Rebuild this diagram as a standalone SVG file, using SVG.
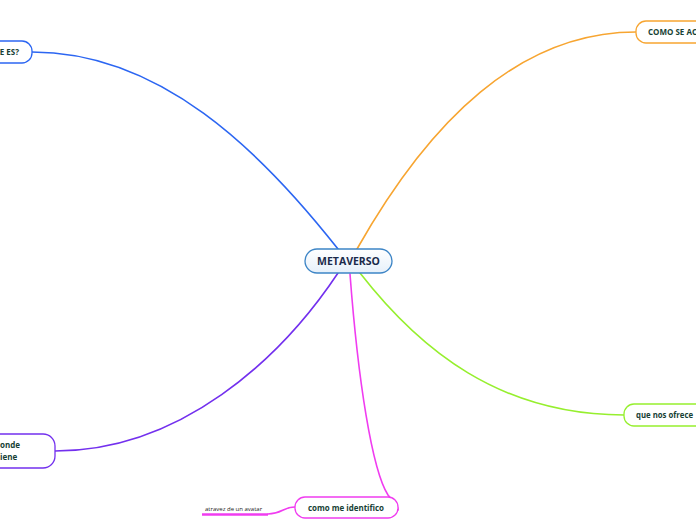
<svg xmlns="http://www.w3.org/2000/svg" width="696" height="520" viewBox="0 0 696 520">
<defs>
<linearGradient id="cg" x1="0" y1="0" x2="0" y2="1">
<stop offset="0" stop-color="#ffffff"/>
<stop offset="1" stop-color="#e6f0fa"/>
</linearGradient>
<style>
.n{fill:#ffffff;stroke-width:1.3}
.t{font-family:"Open Sans","Noto Sans","Liberation Sans",sans-serif;font-weight:bold;font-size:8px;fill:#173f35}
.c{fill:none;stroke-width:1.6;stroke-linecap:round}
</style>
</defs>
<rect width="696" height="520" fill="#ffffff"/>
<g id="connectors">
<path class="c" stroke="#2c66f2" d="M32,52 C160,52 260,150 338,249"/>
<path class="c" stroke="#f7a531" d="M357,249 C430,120 520,32 636,32"/>
<path class="c" stroke="#96ef2e" d="M360,273 C420,350 500,415 624,415"/>
<path class="c" stroke="#7330ee" d="M338,273 C280,360 180,451 55,451"/>
<path class="c" stroke="#f03cf0" d="M350,274 C358,380 372,470 388,495 C394,503 399,506 398,510"/>
<path class="c" stroke="#f03cf0" stroke-width="1" d="M268,514 C282,514 283,507 295,507"/>
</g>
<g id="node-center">
<rect x="305" y="249" width="87" height="24" rx="12" fill="url(#cg)" stroke="#3d85c6" stroke-width="1.3"/>
<text x="348.5" y="265" text-anchor="middle" font-family="'Open Sans','Noto Sans','Liberation Sans',sans-serif" font-weight="bold" font-size="10.5" fill="#1b2a4a">METAVERSO</text>
</g>
<g id="node-que-es">
<rect class="n" x="-20" y="41" width="52" height="22" rx="10" stroke="#2c66f2"/>
<text class="t" x="19" y="55" text-anchor="end">E ES?</text>
</g>
<g id="node-como-se-ac">
<rect class="n" x="636" y="21" width="80" height="22" rx="10" stroke="#f7a531"/>
<text class="t" x="648" y="35">COMO SE AC</text>
</g>
<g id="node-que-nos-ofrece">
<rect class="n" x="624" y="404" width="90" height="22" rx="10" stroke="#96ef2e"/>
<text class="t" x="636" y="418" textLength="57" lengthAdjust="spacingAndGlyphs">que nos ofrece</text>
</g>
<g id="node-donde">
<rect class="n" x="-20" y="434" width="75" height="34" rx="12" stroke="#7330ee"/>
<text class="t" x="0" y="448">onde</text>
<text class="t" x="0" y="460">iene</text>
</g>
<g id="node-como-me-identifico">
<rect class="n" x="295" y="497" width="103" height="21" rx="10" stroke="#f03cf0"/>
<text class="t" x="308" y="511" textLength="76" lengthAdjust="spacingAndGlyphs">como me identifico</text>
</g>
<g id="node-avatar">
<line x1="202" y1="514.5" x2="268" y2="514.5" stroke="#f03cf0" stroke-width="2.5"/>
<text x="205" y="511" font-family="'Open Sans','Noto Sans','Liberation Sans',sans-serif" font-size="6" fill="#222222">atravez de un avatar</text>
</g>
</svg>
